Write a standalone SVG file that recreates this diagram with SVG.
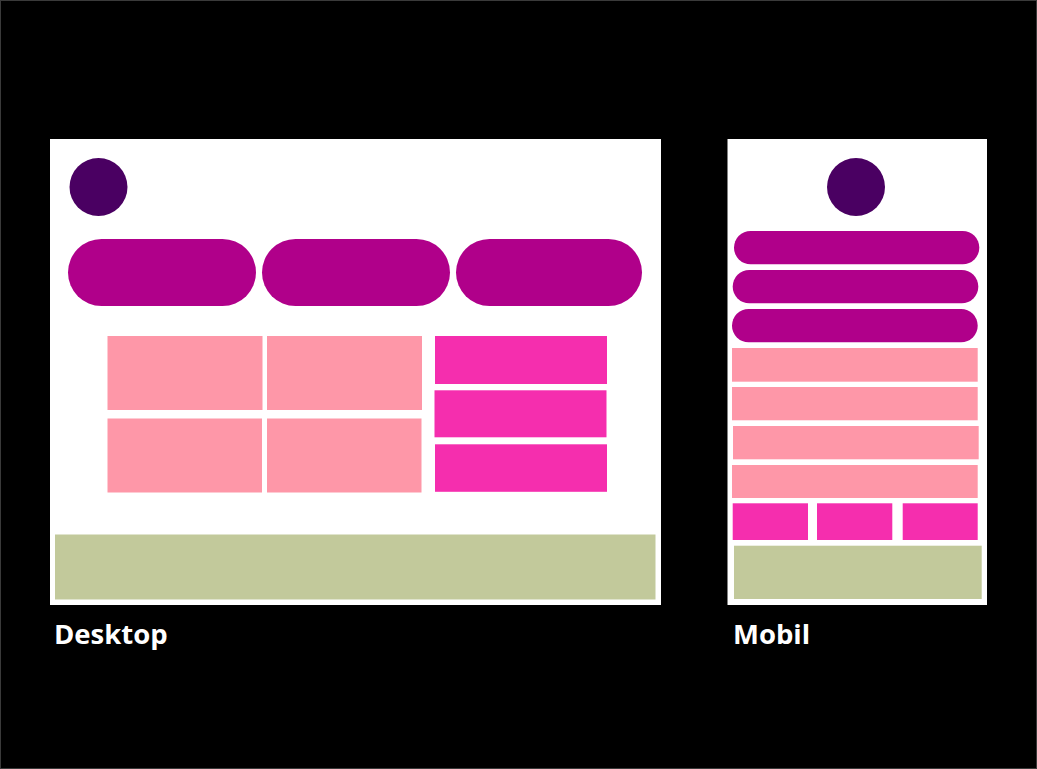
<svg xmlns="http://www.w3.org/2000/svg" width="1037" height="769" viewBox="0 0 1037 769">
<style>
.bg{fill:#000000;stroke:#3a3a3a;stroke-width:2}
.panel{fill:#ffffff}
.logo{fill:#4a0062}
.nav{fill:#b0008a}
.card{fill:#fe97a8}
.side{fill:#f52eae}
.foot{fill:#c2c99b}
.label{font-family:"Open Sans","Noto Sans","Liberation Sans",sans-serif;font-weight:700;font-size:27.5px;fill:#ffffff}
</style>
<rect class="bg" x="0" y="0" width="1037" height="769"/>
<g id="desktop">
<rect class="panel" x="50" y="139" width="611" height="466"/>
<circle class="logo" cx="98.5" cy="187" r="29"/>
<rect class="nav" x="68" y="239" width="188" height="67" rx="33.5"/>
<rect class="nav" x="262" y="239" width="188" height="67" rx="33.5"/>
<rect class="nav" x="456" y="239" width="186" height="67" rx="33.5"/>
<rect class="card" x="107.5" y="336" width="155" height="74"/>
<rect class="card" x="267" y="336" width="155" height="74"/>
<rect class="card" x="107.5" y="418.5" width="154.5" height="74"/>
<rect class="card" x="267" y="418.5" width="154.5" height="74"/>
<rect class="side" x="435" y="336" width="172" height="48"/>
<rect class="side" x="434.5" y="390.3" width="172" height="47"/>
<rect class="side" x="435" y="444.3" width="172" height="47.5"/>
<rect class="foot" x="55" y="534.5" width="600.5" height="65"/>
<text class="label" x="54" y="643.5">Desktop</text>
</g>
<g id="mobile">
<rect class="panel" x="727.5" y="139" width="259.5" height="466"/>
<circle class="logo" cx="856" cy="187" r="29"/>
<rect class="nav" x="734" y="231" width="245.3" height="33.3" rx="16.6"/>
<rect class="nav" x="732.7" y="270" width="245.6" height="33.3" rx="16.6"/>
<rect class="nav" x="732" y="309" width="245.7" height="33.3" rx="16.6"/>
<rect class="card" x="732" y="348" width="245.7" height="33.7"/>
<rect class="card" x="732" y="387" width="245.7" height="33.3"/>
<rect class="card" x="733" y="426" width="245.7" height="33.3"/>
<rect class="card" x="732" y="465" width="245.7" height="33"/>
<rect class="side" x="732.7" y="503.3" width="75.3" height="36.7"/>
<rect class="side" x="817" y="503.3" width="75.3" height="36.7"/>
<rect class="side" x="902.7" y="503.3" width="75" height="36.7"/>
<rect class="foot" x="734" y="545.7" width="247.7" height="53.3"/>
<text class="label" x="733" y="643.5">Mobil</text>
</g>
</svg>
